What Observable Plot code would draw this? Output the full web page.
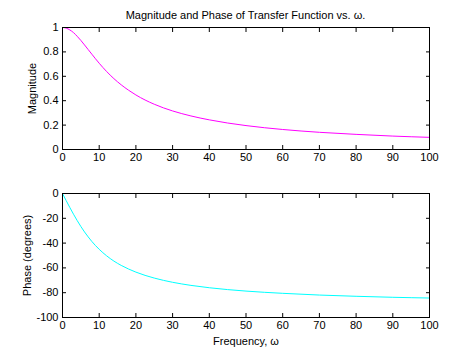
<!DOCTYPE html>
<html>
<head>
<meta charset="utf-8">
<script src="https://cdn.jsdelivr.net/npm/d3@7"></script>
<script src="https://cdn.jsdelivr.net/npm/@observablehq/plot@0.6"></script>
<style>
  html, body { margin: 0; padding: 0; background: #fff; }
  #wrap { position: relative; width: 474px; height: 355px; font-family: "Liberation Sans", Arial, sans-serif; }
  #title { position: absolute; left: 62px; width: 367px; top: 9px; text-align: center; font-size: 11px; color: #000; }
  #top { position: absolute; left: 0; top: 22px; }
  #bottom { position: absolute; left: 0; top: 170px; }
  svg { overflow: visible; }
</style>
</head>
<body>
<div id="wrap">
  <div id="title">Magnitude and Phase of Transfer Function vs. ω.</div>
  <div id="top"></div>
  <div id="bottom"></div>
</div>
<script>
const omega = [0, 1, 2, 3, 4, 5, 6, 7, 8, 10, 12, 14, 16, 18, 20, 25, 30, 35, 40, 45, 50, 60, 70, 80, 90, 100];
const magnitude = [1, 0.995, 0.98, 0.958, 0.928, 0.894, 0.857, 0.819, 0.781, 0.707, 0.64, 0.581, 0.53, 0.486, 0.447, 0.371, 0.316, 0.275, 0.243, 0.217, 0.196, 0.164, 0.141, 0.124, 0.11, 0.0995];
const phase = [0, -5.7, -11.3, -16.7, -21.8, -26.6, -31.0, -35.0, -38.7, -45.0, -50.2, -54.5, -58.0, -60.9, -63.4, -68.2, -71.6, -74.1, -76.0, -77.5, -78.7, -80.5, -81.9, -82.9, -83.7, -84.3];
const xTicks = [0, 10, 20, 30, 40, 50, 60, 70, 80, 90, 100];
const magTicks = [0, 0.2, 0.4, 0.6, 0.8, 1];
const phaseTicks = [0, -20, -40, -60, -80, -100];
const titleText = "Magnitude and Phase of Transfer Function vs. ω.";
const magLabel = "Magnitude";
const phaseLabel = "Phase (degrees)";
const xLabel = "Frequency, ω";

const magData = omega.map((w, i) => ({w, v: magnitude[i]}));
const phaseData = omega.map((w, i) => ({w, v: phase[i]}));
const fmt = d => String(d);

function panel({data, yDomain, yTicks, yLabel, color, height, marginTop, marginBottom, xLab, yLabelOffset}) {
  return Plot.plot({
    width: 474,
    height,
    marginLeft: 62,
    marginRight: 45,
    marginTop,
    marginBottom,
    style: {fontFamily: "'Liberation Sans', Arial, sans-serif", fontSize: "11px", color: "#000", background: "#fff"},
    x: {domain: [0, 100]},
    y: {domain: yDomain},
    marks: [
      Plot.axisX({anchor: "bottom", ticks: xTicks, tickSize: -4, tickPadding: 8, tickFormat: fmt,
        label: xLab, labelAnchor: "center", labelArrow: "none", labelOffset: 27}),
      Plot.axisX({anchor: "top", ticks: xTicks, tickSize: -4, tickFormat: () => "", label: null}),
      Plot.axisY({anchor: "left", ticks: yTicks, tickSize: -4, tickPadding: 8, tickFormat: fmt,
        label: yLabel, labelAnchor: "center", labelArrow: "none", labelOffset: yLabelOffset}),
      Plot.axisY({anchor: "right", ticks: yTicks, tickSize: -4, tickFormat: () => "", label: null}),
      Plot.line(data, {x: "w", y: "v", stroke: color, strokeWidth: 1, curve: "monotone-x"}),
      Plot.frame({stroke: "#000"})
    ]
  });
}

document.getElementById("title").textContent = titleText;
document.getElementById("top").append(panel({
  data: magData, yDomain: [0, 1], yTicks: magTicks, yLabel: magLabel, color: "#ff00ff",
  height: 148, marginTop: 5, marginBottom: 21, xLab: null, yLabelOffset: 34
}));
document.getElementById("bottom").append(panel({
  data: phaseData, yDomain: [-100, 0], yTicks: phaseTicks, yLabel: phaseLabel, color: "#00ffff",
  height: 185, marginTop: 23, marginBottom: 38, xLab: xLabel, yLabelOffset: 39
}));
</script>
</body>
</html>
